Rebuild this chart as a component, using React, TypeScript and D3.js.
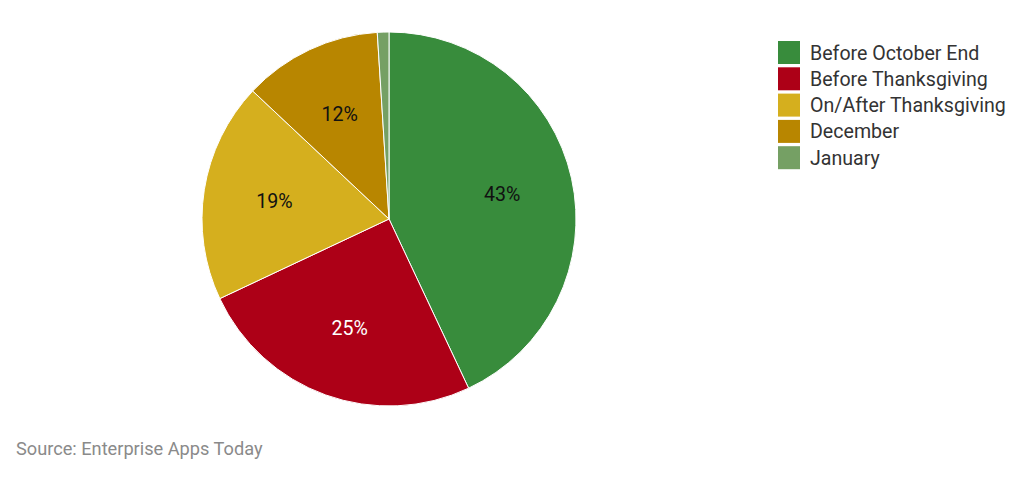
import React, { useEffect, useRef } from 'react';
import * as d3 from 'd3';

const categories = ['Before October End', 'Before Thanksgiving', 'On/After Thanksgiving', 'December', 'January'];
const values = [43, 25, 19, 12, 1];
const colors = ['#388c3c', '#ad0017', '#d5af1e', '#b88600', '#75a064'];
const labelColors = ['#111', '#fff', '#111', '#111', '#111'];

const width = 1024;
const height = 477;

const App: React.FC = () => {
  const svgRef = useRef<SVGSVGElement>(null);

  useEffect(() => {
    if (!svgRef.current) return;
    const svg = d3.select(svgRef.current);
    svg.selectAll('*').remove();

    const cx = 389;
    const cy = 219;
    const radius = 187;
    const fs = 19.6;

    const data = categories.map((c, i) => ({ name: c, value: values[i], color: colors[i], label: labelColors[i] }));

    const pie = d3.pie<typeof data[number]>().value(d => d.value).sort(null);
    const arc = d3.arc<d3.PieArcDatum<typeof data[number]>>().innerRadius(0).outerRadius(radius);
    const labelArc = d3.arc<d3.PieArcDatum<typeof data[number]>>().innerRadius(radius * 0.62).outerRadius(radius * 0.62);

    const g = svg.append('g').attr('transform', `translate(${cx},${cy})`);
    const arcs = pie(data);

    g.selectAll('path')
      .data(arcs)
      .join('path')
      .attr('d', arc)
      .attr('fill', d => d.data.color)
      .attr('stroke', '#fff')
      .attr('stroke-width', 1);

    g.selectAll('text')
      .data(arcs.filter(d => d.data.value >= 5))
      .join('text')
      .attr('transform', d => {
        const [x, y] = labelArc.centroid(d);
        return `translate(${x},${y + 7})`;
      })
      .attr('text-anchor', 'middle')
      .attr('font-size', fs)
      .attr('fill', d => d.data.label)
      .text(d => `${d.data.value}%`);

    // legend
    const legend = svg.append('g').attr('transform', 'translate(778,41)');
    const rows = legend.selectAll('g')
      .data(data)
      .join('g')
      .attr('transform', (_, i) => `translate(0,${i * 26.3})`);
    rows.append('rect')
      .attr('width', 22)
      .attr('height', 23)
      .attr('fill', d => d.color);
    rows.append('text')
      .attr('x', 32)
      .attr('y', 18.5)
      .attr('font-size', fs)
      .attr('fill', '#333')
      .text(d => d.name);

    svg.append('text')
      .attr('x', 16)
      .attr('y', 455)
      .attr('font-size', 18.2)
      .attr('fill', '#8a8a8a')
      .text('Source: Enterprise Apps Today');
  }, []);

  return (
    <svg
      ref={svgRef}
      width={width}
      height={height}
      style={{ position: 'absolute', left: 0, top: 0, fontFamily: 'Roboto, sans-serif', background: '#fff' }}
    />
  );
};

export default App;
